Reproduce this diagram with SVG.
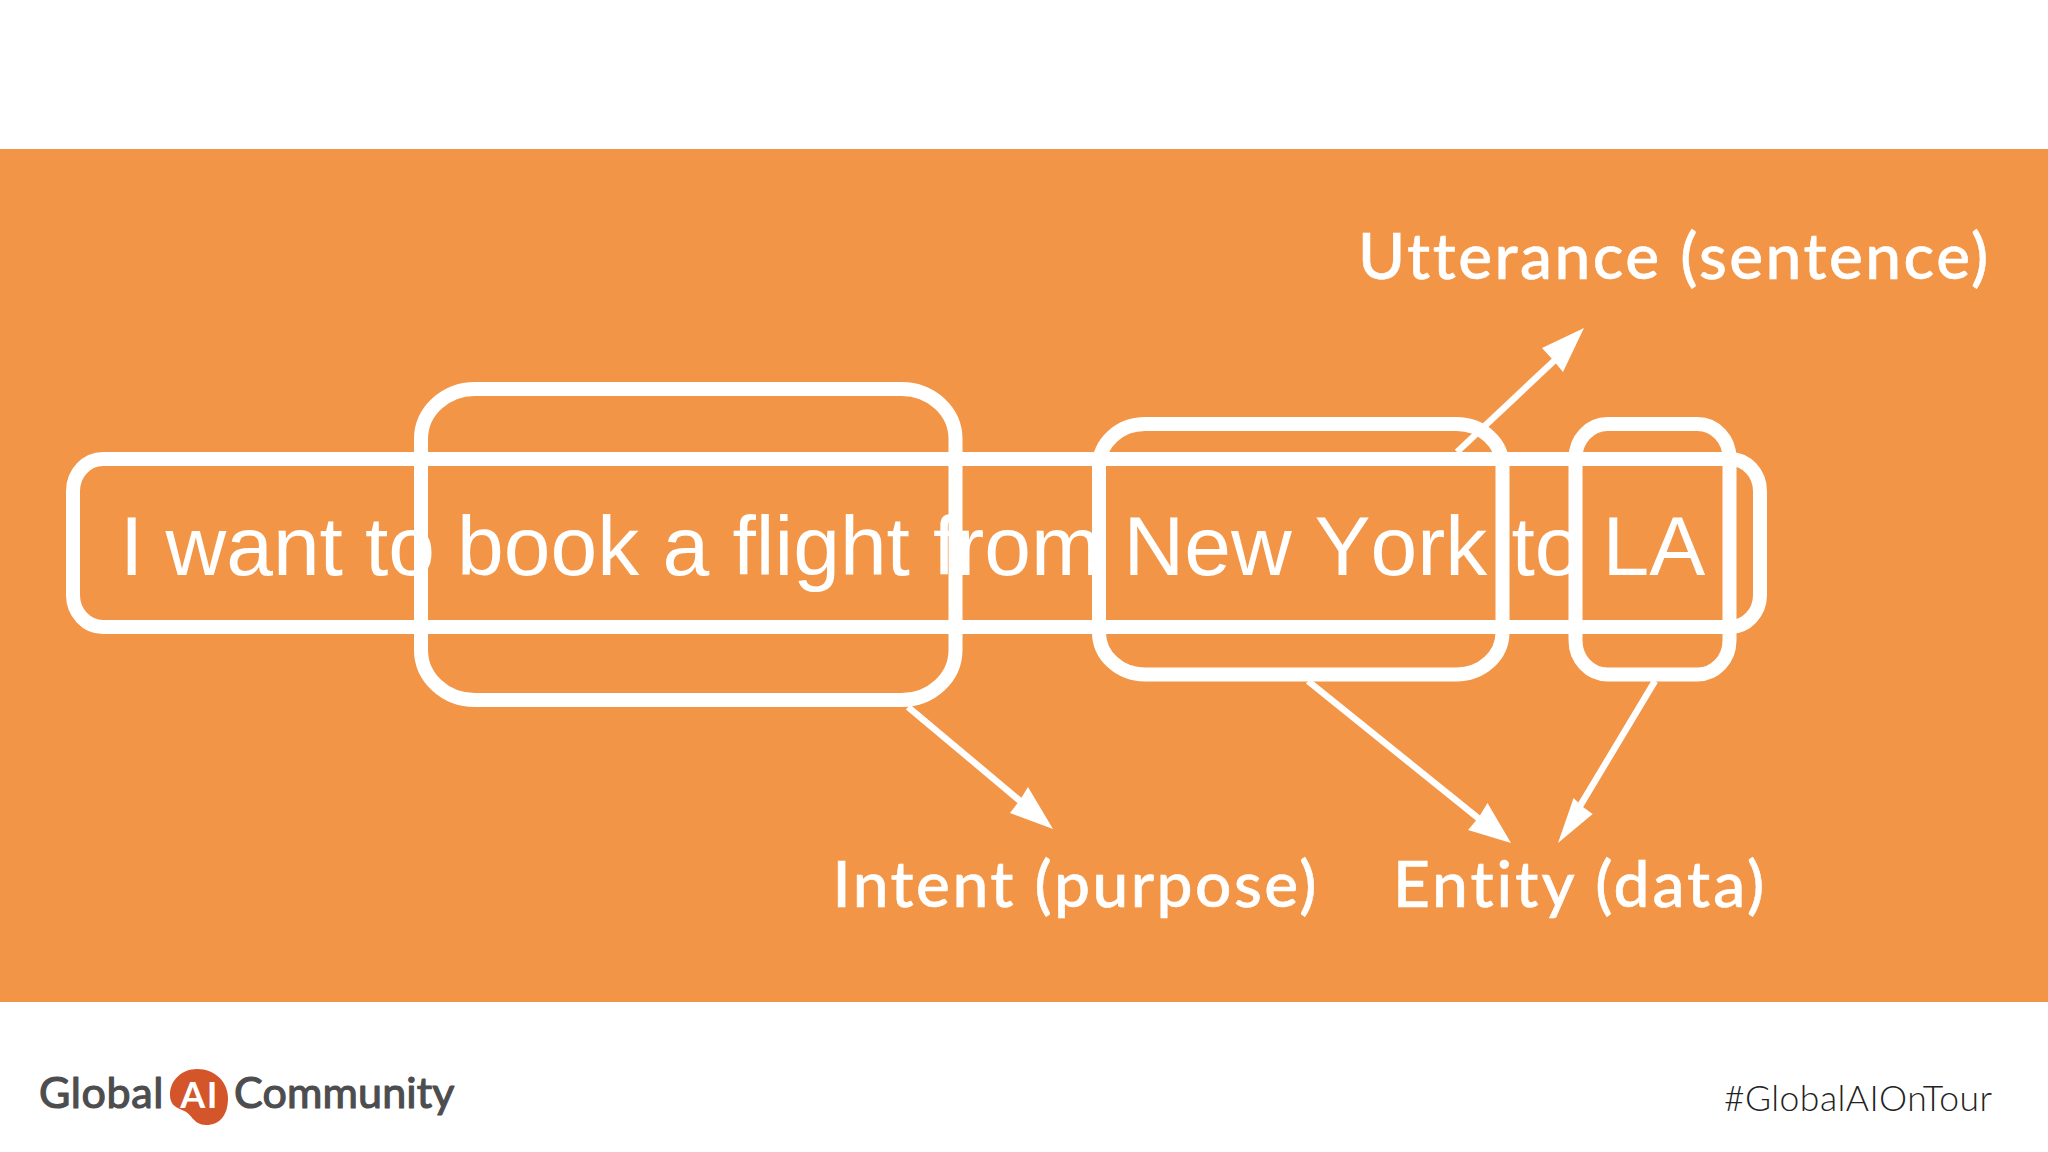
<svg xmlns="http://www.w3.org/2000/svg" width="2048" height="1152" viewBox="0 0 2048 1152">
<style>
.box{fill:none;stroke:#fff;stroke-width:14}
.ln{stroke:#fff;stroke-width:6.500;fill:none}
.hd{fill:#fff}
.sent{font-family:"Liberation Sans",Arial,sans-serif;font-size:84px;fill:#fff;font-kerning:none}
.lab{font-family:Lato,"Open Sans",sans-serif;font-size:64px;font-weight:500;fill:#fff;stroke:#fff;stroke-width:.6;letter-spacing:2.500px;font-variant-ligatures:none}
.wide{letter-spacing:3px}
.logo{font-family:Lato,"Noto Sans",sans-serif;font-size:43px;fill:#4d4d4f;stroke:#4d4d4f;stroke-width:1.200;stroke-linejoin:round;font-variant-ligatures:none}
.tag{font-family:Lato,"Open Sans",sans-serif;font-size:35.500px;font-weight:300;fill:#222;letter-spacing:.45px;font-variant-ligatures:none}
</style>
<rect width="2048" height="1152" fill="#fff"/>
<rect id="band" x="0" y="149" width="2048" height="853" fill="#f29546"/>
<g id="sentence-text"><text class="sent" y="575"><tspan x="120">I</tspan> <tspan x="165.500">want</tspan> <tspan x="365">to</tspan> <tspan x="457">book</tspan> <tspan x="662.500">a</tspan> <tspan x="732.500">flight</tspan> <tspan x="933">from</tspan> <tspan x="1123.500">New</tspan> <tspan x="1314.500">York</tspan> <tspan x="1511.500">to</tspan> <tspan x="1602.500">LA</tspan></text></g>
<g id="utterance-box"><rect class="box" x="73" y="459" width="1687" height="168" rx="30" ry="32"/></g>
<g id="intent-box"><rect class="box" x="421" y="389" width="534.500" height="311" rx="54" ry="50"/></g>
<g id="entity-box-1"><rect class="box" x="1099" y="424" width="403.500" height="250.500" rx="46" ry="42"/></g>
<g id="entity-box-2"><rect class="box" x="1575.500" y="424" width="154" height="250.500" rx="32" ry="34"/></g>
<g id="connectors">
<path class="ln" d="M1457 452L1556 359"/>
<path class="hd" d="M1584 328L1563 372L1553 360L1542 348Z"/>
<path class="ln" d="M908 707L1025 805"/>
<path class="hd" d="M1053 829L1010 813L1020 800L1028 787Z"/>
<path class="ln" d="M1308 681L1483 822"/>
<path class="hd" d="M1511 843L1468 830L1479 817L1487.500 803Z"/>
<path class="ln" d="M1655 681L1577 811"/>
<path class="hd" d="M1558 843L1573.600 798L1583 807L1592.700 814Z"/>
</g>
<g id="label-utterance"><text class="lab" x="1358" y="279">Utterance (sentence)</text></g>
<g id="label-intent"><text class="lab" x="832.500" y="907">Intent (purpose)</text></g>
<g id="label-entity"><text class="lab wide" x="1393" y="907">Entity (data)</text></g>
<g id="logo">
<text class="logo" x="39" y="1108" letter-spacing=".6">Global</text>
<path fill="#d4552a" d="M197 1069C215 1069 228 1082 228 1098C228 1115 220 1125 206 1125C193 1125 192 1113 182 1110C174 1107 170 1103 170 1095C170 1080 182 1069 197 1069Z"/>
<text x="199.500" y="1108" text-anchor="middle" font-family="Lato,sans-serif" font-size="36" font-weight="700" letter-spacing="1.500" fill="#fff">AI</text>
<text class="logo" x="234" y="1108" letter-spacing=".15">Community</text>
</g>
<g id="hashtag"><text class="tag" x="1724" y="1111">#GlobalAIOnTour</text></g>
</svg>
